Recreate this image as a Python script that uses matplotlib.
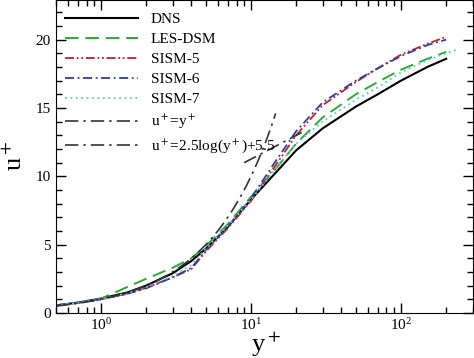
import matplotlib
matplotlib.use("Agg")
import numpy as np
from matplotlib import pyplot as plt
from matplotlib.ticker import LogLocator, MultipleLocator, NullFormatter

# profiles
y_plus = [0.5, 0.7, 1, 1.5, 2, 3, 4, 5, 7, 10, 15, 20, 30, 50, 70, 100, 150, 200]
u_dns = [0.55, 0.75, 1.05, 1.5, 2.0, 2.9, 3.8, 4.7, 6.3, 8.3, 10.4, 11.9, 13.5, 15.1, 16.0, 17.0, 18.0, 18.6]
u_dsm = [0.55, 0.75, 1.05, 1.9, 2.5, 3.3, 4.0, 4.9, 6.5, 8.5, 10.7, 12.4, 14.3, 16.0, 16.9, 17.8, 18.6, 19.1]
u_sism5 = [0.55, 0.75, 1.0, 1.4, 1.85, 2.6, 3.2, 4.5, 6.2, 8.2, 11.0, 13.0, 15.2, 16.9, 17.9, 18.9, 19.7, 20.2]
u_sism6 = [0.55, 0.75, 1.0, 1.4, 1.8, 2.6, 3.3, 4.6, 6.3, 8.4, 11.3, 13.3, 15.4, 17.0, 17.9, 18.8, 19.6, 20.0]
y_sism7 = y_plus + [240]
u_sism7 = [0.55, 0.75, 1.0, 1.45, 1.9, 2.7, 3.5, 4.7, 6.4, 8.3, 10.7, 12.4, 14.0, 15.6, 16.5, 17.6, 18.5, 19.0, 19.3]

# ranges of the two wall laws
visc_range = (0.5, 14.6)
log_range = (9.0, 22.0)

plt.rcParams["font.family"] = ["Liberation Serif", "DejaVu Serif"]
plt.rcParams["mathtext.fontset"] = "stix"

fig = plt.figure(figsize=(4.74, 3.58), dpi=100)
ax = fig.add_axes([0.118, 0.126, 0.879, 0.874])

y_visc = np.geomspace(*visc_range, 60)
y_log = np.geomspace(*log_range, 30)

dashdot = (0, (8, 3, 1.5, 3))
ax.plot(y_plus, u_dns, color="black", lw=1.5, label="DNS")
ax.plot(y_plus, u_dsm, color="#2ea836", lw=1.4, ls=(0, (7, 3.5)), label="LES-DSM")
ax.plot(y_plus, u_sism5, color="#c8202a", lw=1.3, ls=(0, (5, 1.5, 1, 1.5, 1, 1.5)), label="SISM-5")
ax.plot(y_plus, u_sism6, color="#2c3e9c", lw=1.3, ls=(0, (5, 2, 1, 2)), label="SISM-6")
ax.plot(y_sism7, u_sism7, color="#5ec3e0", lw=1.3, ls=(0, (1, 2)), label="SISM-7")
ax.plot(y_visc, y_visc, color="#333333", lw=1.2, ls=dashdot, label="u$^+$=y$^+$")
ax.plot(y_log, 2.5 * np.log(y_log) + 5.5, color="#333333", lw=1.2, ls=dashdot,
        label="u$^+$=2.5log(y$^+$)+5.5")

ax.set_xscale("log")
ax.set_xlim(0.5, 300)
ax.set_ylim(0, 22.9)
ax.yaxis.set_major_locator(MultipleLocator(5))
ax.yaxis.set_minor_locator(MultipleLocator(1))
ax.xaxis.set_major_locator(LogLocator(base=10))
ax.xaxis.set_minor_locator(LogLocator(base=10, subs=np.arange(2, 10)))
ax.xaxis.set_minor_formatter(NullFormatter())
ax.tick_params(which="both", direction="in", top=True, right=True, labelsize=11, width=1)
ax.tick_params(which="major", length=7)
ax.tick_params(which="minor", length=4)
ax.tick_params(axis="x", which="major", pad=3)

ax.set_xlabel("y$^+$", fontsize=19, labelpad=-3)
ax.xaxis.set_label_coords(0.505, -0.055)
ax.set_ylabel("u$^+$", fontsize=19, labelpad=6)

ax.legend(loc="upper left", frameon=False, fontsize=11, handlelength=4.8,
          labelspacing=0.42, borderaxespad=0.2, handletextpad=0.8,
          bbox_to_anchor=(0.0, 0.99))

plt.savefig("out.png", dpi=100)
